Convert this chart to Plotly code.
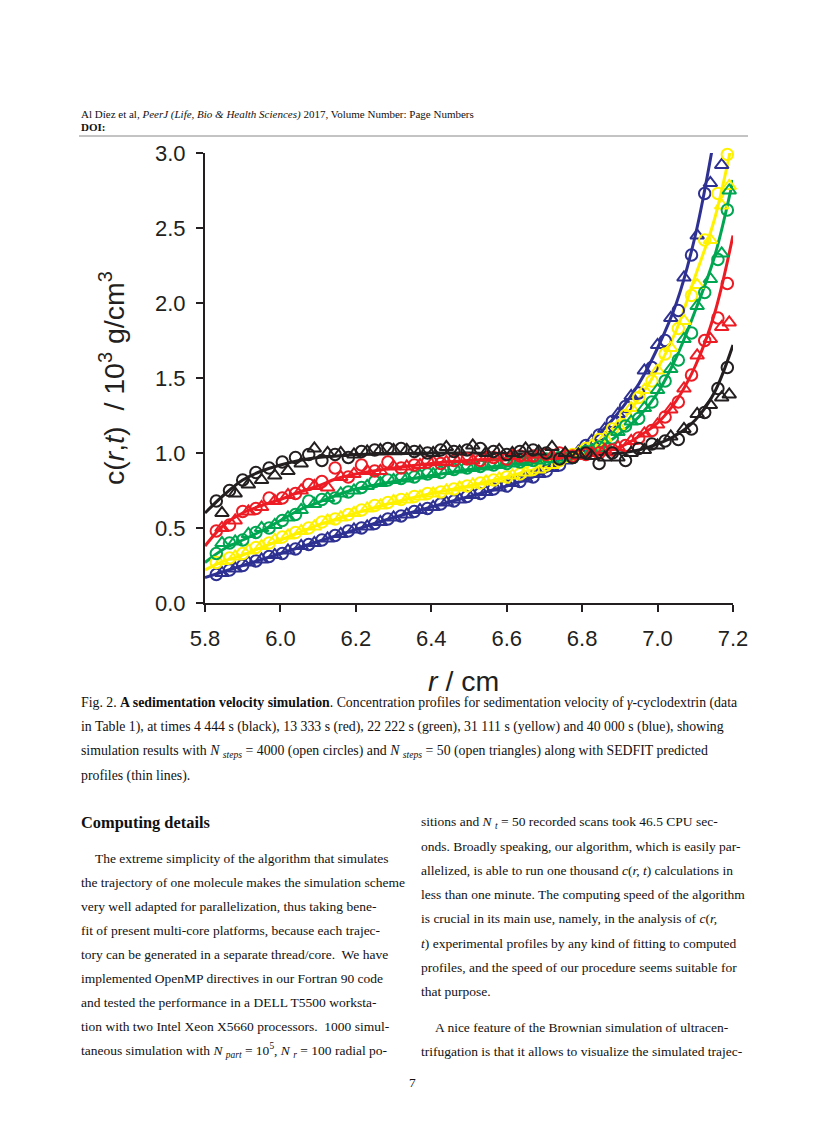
import plotly.graph_objects as go

W, H = 826, 1122

# ---------------- data ----------------
r_line = [5.80, 5.85, 5.90, 5.95, 6.00, 6.05, 6.10, 6.15, 6.20, 6.30, 6.40, 6.50,
          6.60, 6.70, 6.75, 6.80, 6.85, 6.90, 6.95, 7.00, 7.05, 7.10, 7.15, 7.20]
line_black = [0.60, 0.72, 0.82, 0.88, 0.92, 0.95, 0.97, 0.98, 0.99, 0.995, 1.00, 1.00,
              0.995, 0.99, 0.985, 0.985, 0.99, 1.00, 1.02, 1.06, 1.12, 1.22, 1.40, 1.72]
line_red = [0.38, 0.52, 0.60, 0.65, 0.69, 0.74, 0.78, 0.83, 0.86, 0.90, 0.93, 0.95,
            0.965, 0.975, 0.98, 0.99, 1.01, 1.04, 1.11, 1.20, 1.35, 1.58, 1.92, 2.45]
line_green = [0.27, 0.36, 0.42, 0.48, 0.55, 0.62, 0.67, 0.72, 0.76, 0.81, 0.85, 0.89,
              0.92, 0.95, 0.97, 0.99, 1.04, 1.13, 1.24, 1.40, 1.64, 1.95, 2.30, 2.82]
line_yellow = [0.22, 0.28, 0.32, 0.37, 0.42, 0.47, 0.52, 0.56, 0.60, 0.67, 0.73, 0.78,
               0.84, 0.91, 0.95, 1.00, 1.08, 1.20, 1.36, 1.56, 1.82, 2.18, 2.55, 3.10]
line_blue = [0.17, 0.21, 0.25, 0.29, 0.33, 0.37, 0.41, 0.45, 0.49, 0.57, 0.64, 0.71,
             0.78, 0.87, 0.93, 1.03, 1.14, 1.28, 1.46, 1.70, 2.00, 2.45, 3.10, 3.90]

r_circ = [5.83, 5.865, 5.90, 5.935, 5.97, 6.005, 6.04, 6.075, 6.11, 6.145, 6.18, 6.215,
          6.25, 6.285, 6.32, 6.355, 6.39, 6.425, 6.46, 6.495, 6.53, 6.565, 6.60, 6.635,
          6.67, 6.705, 6.74, 6.775, 6.81, 6.845, 6.88, 6.915, 6.95, 6.985, 7.02, 7.055,
          7.09, 7.125, 7.16, 7.185]
r_tri = [5.845, 5.88, 5.915, 5.95, 5.985, 6.02, 6.055, 6.09, 6.125, 6.16, 6.195, 6.23,
         6.265, 6.30, 6.335, 6.37, 6.405, 6.44, 6.475, 6.51, 6.545, 6.58, 6.615, 6.65,
         6.685, 6.72, 6.755, 6.79, 6.825, 6.86, 6.895, 6.93, 6.965, 7.00, 7.035, 7.07,
         7.105, 7.14, 7.17, 7.19]

circ_black = [0.68, 0.75, 0.82, 0.87, 0.90, 0.94, 0.97, 0.99, 0.95, 0.99, 0.97, 1.01,
              1.02, 1.03, 1.03, 1.01, 1.00, 1.02, 1.01, 1.02, 1.03, 1.01, 0.99, 1.01,
              1.02, 1.00, 0.96, 0.97, 1.00, 0.93, 1.00, 0.95, 1.03, 1.06, 1.08, 1.09,
              1.16, 1.27, 1.43, 1.57]
tri_black = [0.60, 0.73, 0.79, 0.82, 0.85, 0.88, 0.93, 1.03, 1.00, 1.00, 0.99, 1.01,
             1.02, 1.02, 1.02, 1.01, 1.00, 1.04, 1.01, 1.05, 1.00, 1.02, 1.00, 1.03,
             1.01, 1.04, 1.00, 0.99, 0.98, 0.97, 0.97, 1.00, 1.02, 1.05, 1.11, 1.16,
             1.26, 1.32, 1.37, 1.39]
circ_red = [0.48, 0.52, 0.61, 0.63, 0.70, 0.70, 0.73, 0.79, 0.81, 0.90, 0.84, 0.92,
            0.88, 0.94, 0.90, 0.92, 0.94, 0.93, 0.95, 0.96, 0.95, 0.97, 0.96, 0.98,
            0.98, 0.99, 1.00, 0.98, 0.99, 1.00, 1.02, 1.05, 1.10, 1.15, 1.24, 1.34,
            1.52, 1.75, 1.90, 2.13]
tri_red = [0.50, 0.55, 0.61, 0.64, 0.68, 0.72, 0.75, 0.78, 0.77, 0.84, 0.86, 0.88,
           0.88, 0.91, 0.91, 0.92, 0.94, 0.94, 0.96, 0.95, 0.97, 0.97, 0.98, 0.97,
           0.99, 0.98, 0.99, 0.98, 1.00, 1.02, 1.04, 1.08, 1.13, 1.19, 1.29, 1.43,
           1.65, 1.76, 1.84, 1.87]
circ_green = [0.33, 0.40, 0.42, 0.47, 0.50, 0.55, 0.59, 0.68, 0.69, 0.70, 0.74, 0.77,
              0.81, 0.82, 0.83, 0.84, 0.86, 0.87, 0.89, 0.90, 0.91, 0.92, 0.93, 0.94,
              0.95, 0.96, 0.97, 0.97, 1.01, 1.04, 1.10, 1.18, 1.23, 1.34, 1.48, 1.62,
              1.80, 2.07, 2.29, 2.62]
tri_green = [0.40, 0.41, 0.46, 0.50, 0.52, 0.57, 0.62, 0.66, 0.70, 0.73, 0.75, 0.78,
             0.80, 0.82, 0.83, 0.85, 0.86, 0.88, 0.89, 0.90, 0.91, 0.92, 0.93, 0.94,
             0.95, 0.96, 0.97, 0.99, 1.02, 1.06, 1.14, 1.21, 1.30, 1.42, 1.56, 1.76,
             1.98, 2.16, 2.33, 2.75]
circ_yellow = [0.27, 0.30, 0.33, 0.37, 0.40, 0.44, 0.47, 0.50, 0.54, 0.56, 0.59, 0.62,
               0.65, 0.67, 0.69, 0.71, 0.73, 0.74, 0.76, 0.78, 0.80, 0.82, 0.84, 0.86,
               0.89, 0.92, 0.95, 0.99, 1.03, 1.09, 1.16, 1.25, 1.37, 1.48, 1.66, 1.83,
               2.05, 2.42, 2.73, 2.99]
tri_yellow = [0.28, 0.31, 0.35, 0.38, 0.42, 0.45, 0.48, 0.51, 0.55, 0.57, 0.60, 0.63,
              0.65, 0.68, 0.69, 0.71, 0.73, 0.75, 0.77, 0.79, 0.81, 0.83, 0.85, 0.87,
              0.89, 0.92, 0.96, 1.00, 1.05, 1.10, 1.18, 1.30, 1.42, 1.55, 1.70, 1.88,
              2.12, 2.42, 2.65, 2.78]
circ_blue = [0.19, 0.22, 0.25, 0.28, 0.31, 0.33, 0.36, 0.39, 0.42, 0.45, 0.48, 0.50,
             0.53, 0.56, 0.58, 0.61, 0.63, 0.66, 0.68, 0.71, 0.73, 0.76, 0.78, 0.81,
             0.84, 0.88, 0.92, 0.97, 1.05, 1.12, 1.21, 1.31, 1.40, 1.57, 1.75, 1.95,
             2.32, 2.73]
tri_blue = [0.20, 0.23, 0.27, 0.29, 0.32, 0.35, 0.38, 0.40, 0.43, 0.46, 0.49, 0.51,
            0.54, 0.57, 0.59, 0.62, 0.64, 0.67, 0.69, 0.72, 0.74, 0.77, 0.80, 0.83,
            0.86, 0.90, 0.95, 1.01, 1.08, 1.16, 1.26, 1.38, 1.55, 1.72, 1.90, 2.17,
            2.45, 2.80, 2.92]

x_ticks = [5.8, 6.0, 6.2, 6.4, 6.6, 6.8, 7.0, 7.2]
y_ticks = [0.0, 0.5, 1.0, 1.5, 2.0, 2.5, 3.0]

series = [
    ("blue", "#2e3192", line_blue, circ_blue, tri_blue),
    ("yellow", "#fff200", line_yellow, circ_yellow, tri_yellow),
    ("green", "#00a651", line_green, circ_green, tri_green),
    ("red", "#ed1c24", line_red, circ_red, tri_red),
    ("black", "#231f20", line_black, circ_black, tri_black),
]

# ---------------- figure ----------------
fig = go.Figure()
for name, col, ln, cc, tt in series:
    fig.add_trace(go.Scatter(x=r_line, y=ln, mode="lines", line=dict(color=col, width=3, shape="spline"),
                             showlegend=False, hoverinfo="skip"))
for name, col, ln, cc, tt in series:
    fig.add_trace(go.Scatter(x=r_circ[:len(cc)], y=cc, mode="markers", cliponaxis=False,
                             marker=dict(symbol="circle-open", size=11.5, color=col, line=dict(width=2, color=col)),
                             showlegend=False))
    fig.add_trace(go.Scatter(x=r_tri[:len(tt)], y=tt, mode="markers", cliponaxis=False,
                             marker=dict(symbol="triangle-up-open", size=12, color=col, line=dict(width=2, color=col)),
                             showlegend=False))

OFF = 8  # page body margin of the browser

def px(x):
    return (x - OFF) / W

def py(y):
    return 1 - (y - OFF) / H

axcol = "#231f20"
fig.update_layout(
    template="none",
    width=W, height=H, margin=dict(l=0, r=0, t=0, b=0, pad=0),
    paper_bgcolor="white", plot_bgcolor="white",
    xaxis=dict(domain=[px(205), px(733)], range=[5.8, 7.2], tickvals=x_ticks, tickformat=".1f",
               automargin=False,
               showgrid=False, zeroline=False, showline=True, linecolor=axcol, linewidth=2,
               ticks="outside", ticklen=7, tickwidth=1.5, tickcolor=axcol,
               tickfont=dict(family="Liberation Sans", size=22, color=axcol), ticklabelstandoff=8),
    yaxis=dict(domain=[py(603), py(153)], range=[0, 3.0], tickvals=y_ticks, tickformat=".1f",
               automargin=False,
               showgrid=False, zeroline=False, showline=True, linecolor=axcol, linewidth=2,
               ticks="outside", ticklen=7, tickwidth=1.5, tickcolor=axcol,
               tickfont=dict(family="Liberation Sans", size=22, color=axcol), ticklabelstandoff=6),
)

ann = []
def text(x, y, s, size, family="Liberation Serif", anchor="left", color="#111", angle=0):
    ann.append(dict(xref="paper", yref="paper", x=px(x), y=py(y), text=s, showarrow=False,
                    xanchor=anchor, yanchor="middle", textangle=angle,
                    font=dict(family=family, size=size, color=color)))

# axis titles
text(463, 681, "<i>r</i> / cm", 28.5, family="Liberation Sans", anchor="center", color=axcol)
text(112, 378, "c(<i>r</i>,<i>t</i>)  / 10<sup>3</sup> g/cm<sup>3</sup>", 28.5,
     family="Liberation Sans", anchor="center", color=axcol, angle=-90)

# header
text(79, 115, "Al Díez et al, <i>PeerJ (Life, Bio &amp; Health Sciences)</i> 2017, Volume Number: Page Numbers", 11)
text(79, 127, "<b>DOI:</b>", 11)

# caption
cap = [
    "Fig. 2. <b>A sedimentation velocity simulation</b>. Concentration profiles for sedimentation velocity of <i>γ</i>-cyclodextrin (data",
    "in Table 1), at times 4 444 s (black), 13 333 s (red), 22 222 s (green), 31 111 s (yellow) and 40 000 s (blue), showing",
    "simulation results with <i>N</i> <sub><i>steps</i></sub> = 4000 (open circles) and <i>N</i> <sub><i>steps</i></sub> = 50 (open triangles) along with SEDFIT predicted",
    "profiles (thin lines).",
]
for i, s in enumerate(cap):
    text(79, 703 + i * 24.3, s, 13.8)

text(79, 822, "<b>Computing details</b>", 16.4)

left = [
    (93, "The extreme simplicity of the algorithm that simulates"),
    (79, "the trajectory of one molecule makes the simulation scheme"),
    (79, "very well adapted for parallelization, thus taking bene-"),
    (79, "fit of present multi-core platforms, because each trajec-"),
    (79, "tory can be generated in a separate thread/core.  We have"),
    (79, "implemented OpenMP directives in our Fortran 90 code"),
    (79, "and tested the performance in a DELL T5500 worksta-"),
    (79, "tion with two Intel Xeon X5660 processors.  1000 simul-"),
    (79, "taneous simulation with <i>N</i> <sub><i>part</i></sub> = 10<sup>5</sup>, <i>N</i> <sub><i>r</i></sub> = 100 radial po-"),
]
for i, (x0, s) in enumerate(left):
    text(x0, 858 + i * 24.1, s, 13.5)

right = [
    (419, 822, "sitions and <i>N</i> <sub><i>t</i></sub> = 50 recorded scans took 46.5 CPU sec-"),
    (419, 846, "onds. Broadly speaking, our algorithm, which is easily par-"),
    (419, 870.5, "allelized, is able to run one thousand <i>c</i>(<i>r, t</i>) calculations in"),
    (419, 894.5, "less than one minute. The computing speed of the algorithm"),
    (419, 918.5, "is crucial in its main use, namely, in the analysis of <i>c</i>(<i>r,</i>"),
    (419, 943, "<i>t</i>) experimental profiles by any kind of fitting to computed"),
    (419, 967, "profiles, and the speed of our procedure seems suitable for"),
    (419, 991, "that purpose."),
    (433, 1027, "A nice feature of the Brownian simulation of ultracen-"),
    (419, 1051, "trifugation is that it allows to visualize the simulated trajec-"),
]
for x0, y0, s in right:
    text(x0, y0, s, 13.5)

text(412, 1082, "7", 13.5, anchor="center")

fig.update_layout(annotations=ann,
                  shapes=[dict(type="line", xref="paper", yref="paper", x0=px(79), x1=px(748),
                               y0=py(136), y1=py(136), line=dict(color="#888", width=1))])

fig.write_html("out.html")
